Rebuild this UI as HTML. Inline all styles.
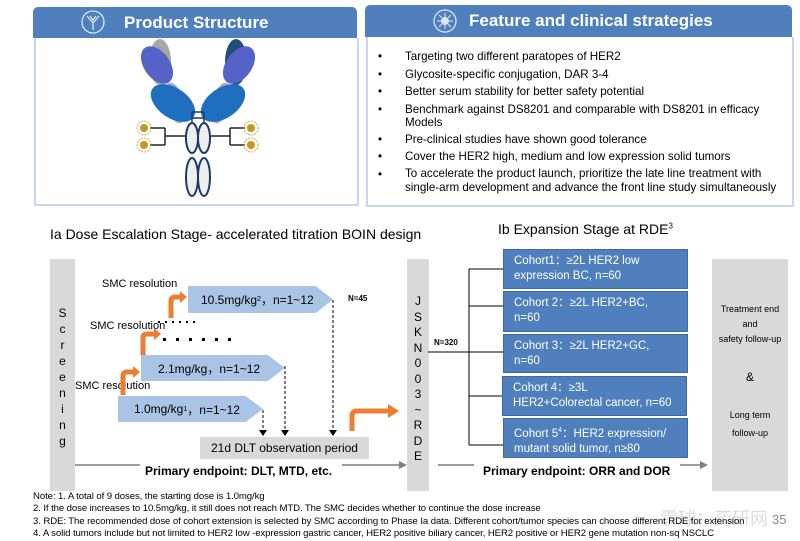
<!DOCTYPE html>
<html><head><meta charset="utf-8"><style>
body{margin:0;width:800px;height:541px;background:#fff;font-family:"Liberation Sans",Arial,sans-serif;position:relative;overflow:hidden}
.a{position:absolute}
.hdr{background:#4f7fbc;color:#fff;font-weight:bold;border-radius:5px 5px 0 0}
.t{font-size:11px;color:#000;white-space:nowrap}
.coh{position:absolute;left:503px;width:185px;background:#4f7fbc;color:#fff;font-size:11.5px;line-height:15px;padding:4px 0 0 10px;box-sizing:border-box;border:1px solid #3d6aa3}
.bar{position:absolute;background:#d9d9d9}
.pent{position:absolute;background:#aac4e6;clip-path:polygon(0 0,88% 0,100% 50%,88% 100%,0 100%);font-size:12px;display:flex;align-items:center;box-sizing:border-box}
</style></head><body>
<!-- headers -->
<div class="a hdr" style="left:33px;top:7px;width:324px;height:31px;font-size:17px;line-height:31px;"><span style="position:absolute;left:91px">Product Structure</span>
<svg style="position:absolute;left:47px;top:3px" width="27" height="25"><circle cx="13" cy="12" r="11" fill="none" stroke="#dde6f3" stroke-width="1.3"/><path d="M7 6 L13 13 L19 6 M13 13 V20 M10 6 L13 10 L16 6" stroke="#dde6f3" fill="none" stroke-width="1.3"/></svg></div>
<div class="a" style="left:34px;top:38px;width:321px;height:166px;border:2px solid #c5d6ee;border-top:none"></div>
<div class="a hdr" style="left:365px;top:5px;width:427px;height:32px;font-size:17px;line-height:32px;"><span style="position:absolute;left:104px">Feature and clinical strategies</span>
<svg style="position:absolute;left:67px;top:4px" width="26" height="25"><circle cx="13" cy="12" r="11" fill="none" stroke="#dde6f3" stroke-width="1.3"/><circle cx="13" cy="12" r="4" fill="#dde6f3"/><path d="M13 4V8M13 16V20M5 12H9M17 12H21M7 6L10 9M19 6L16 9M7 18L10 15M19 18L16 15" stroke="#dde6f3"/></svg></div>
<div class="a" style="left:366px;top:37px;width:424px;height:168px;border:2px solid #c5d6ee;border-top:none"></div>

<!-- antibody -->
<svg class="a" style="left:100px;top:35px" width="200" height="170">
<ellipse cx="60" cy="27" rx="11" ry="23" fill="#a6a6a6"/>
<ellipse cx="57" cy="30" rx="13" ry="21" fill="#5563c9" transform="rotate(-35 57 30)"/>
<ellipse cx="75" cy="68" rx="9" ry="21" fill="#a7b0bb" transform="rotate(-15 75 68)"/>
<ellipse cx="73" cy="68" rx="15" ry="25" fill="#1f6fc0" transform="rotate(-55 73 68)"/>
<ellipse cx="136" cy="27" rx="11" ry="23" fill="#1f4e79"/>
<ellipse cx="139" cy="30" rx="13" ry="21" fill="#5563c9" transform="rotate(35 139 30)"/>
<ellipse cx="121" cy="68" rx="9" ry="21" fill="#a7b0bb" transform="rotate(15 121 68)"/>
<ellipse cx="123" cy="68" rx="15" ry="25" fill="#1f6fc0" transform="rotate(55 123 68)"/>
<path d="M92 77H104M92 83H104M92 77V90M104 77V90" stroke="#1f3b64" stroke-width="1.5" fill="none"/>
<g fill="#eee" stroke="#1f3b64" stroke-width="2"><ellipse cx="92" cy="103" rx="6" ry="15"/><ellipse cx="104" cy="103" rx="6" ry="15"/><ellipse cx="92" cy="142" rx="6" ry="19"/><ellipse cx="104" cy="142" rx="6" ry="19"/></g>
<path d="M85 101H65M65 93V110M65 93H50M65 110H50M111 101H130M130 93V110M130 93H145M130 110H145" stroke="#222" stroke-width="1.5" fill="none"/>
<g fill="#c8961c"><circle cx="44" cy="93" r="4"/><circle cx="44" cy="110" r="4"/><circle cx="151" cy="93" r="4"/><circle cx="151" cy="110" r="4"/></g>
<g stroke="#c8961c" stroke-width="1" stroke-dasharray="1.5 1.5" fill="none"><circle cx="44" cy="93" r="7"/><circle cx="44" cy="110" r="7"/><circle cx="151" cy="93" r="7"/><circle cx="151" cy="110" r="7"/></g>
</svg>

<!-- bullets -->
<div class="a t" style="left:378px;top:48px;line-height:17.5px;font-size:11.6px;">
<div>•<span style="position:absolute;left:27px">Targeting two different paratopes of HER2</span></div>
<div>•<span style="position:absolute;left:27px">Glycosite-specific conjugation, DAR 3-4</span></div>
<div>•<span style="position:absolute;left:27px">Better serum stability for better safety potential</span></div>
<div style="height:30px">•<span style="position:absolute;left:27px;line-height:13.5px;margin-top:2px">Benchmark against DS8201 and comparable with DS8201 in efficacy<br>Models</span></div>
<div>•<span style="position:absolute;left:27px">Pre-clinical studies have shown good tolerance</span></div>
<div>•<span style="position:absolute;left:27px">Cover the HER2 high, medium and low expression solid tumors</span></div>
<div>•<span style="position:absolute;left:27px;line-height:14px;margin-top:1px">To accelerate the product launch, prioritize the late line treatment with<br>single-arm development and advance the front line study simultaneously</span></div>
</div>

<!-- section titles -->
<div class="a" style="left:50px;top:226px;font-size:14px">Ia Dose Escalation Stage- accelerated titration BOIN design</div>
<div class="a" style="left:498px;top:221px;font-size:14px">Ib Expansion Stage at RDE<sup style="font-size:8px">3</sup></div>

<!-- bars -->
<div class="bar" style="left:50px;top:259px;width:25px;height:232px"></div>
<div class="a" style="left:50px;top:305px;width:25px;text-align:center;font-size:12px;line-height:16px">S<br>c<br>r<br>e<br>e<br>n<br>i<br>n<br>g</div>
<div class="bar" style="left:407px;top:259px;width:22px;height:232px"></div>
<div class="a" style="left:407px;top:294px;width:22px;text-align:center;font-size:12px;line-height:15.5px">J<br>S<br>K<br>N<br>0<br>0<br>3<br>~<br>R<br>D<br>E</div>
<div class="bar" style="left:712px;top:259px;width:76px;height:232px"></div>
<div class="a" style="left:712px;top:302px;width:76px;text-align:center;font-size:9px;line-height:15px">Treatment end<br>and<br>safety follow-up</div>
<div class="a" style="left:712px;top:370px;width:76px;text-align:center;font-size:12px">&amp;</div>
<div class="a" style="left:712px;top:406px;width:76px;text-align:center;font-size:9px;line-height:18px">Long term<br>follow-up</div>

<!-- pentagons -->
<div class="pent" style="left:188px;top:286px;width:145px;height:27px;padding-left:13px">10.5mg/kg<sup style="font-size:7px">2</sup>，n=1~12</div>
<div class="pent" style="left:141px;top:355px;width:144px;height:26px;padding-left:17px">2.1mg/kg，n=1~12</div>
<div class="pent" style="left:118px;top:396px;width:145px;height:26px;padding-left:16px">1.0mg/kg<sup style="font-size:7px">1</sup>，n=1~12</div>
<div class="a t" style="left:102px;top:278px;font-size:11px">SMC resolution</div>
<div class="a t" style="left:90px;top:320px;font-size:11px">SMC resolution</div>
<div class="a t" style="left:75px;top:380px;font-size:11px">SMC resolution</div>
<div class="a" style="left:348px;top:294px;font-size:8px;font-weight:bold">N=45</div>
<div class="bar" style="left:200px;top:437px;width:169px;height:22px;font-size:12px;line-height:22px;text-align:center">21d DLT observation period</div>

<svg class="a" style="left:0;top:0" width="800" height="541">
<g stroke="#000" stroke-dasharray="3 2" stroke-width="1"><path d="M263 410V430M285 366V430M333 300V430"/></g>
<g fill="#000"><path d="M259 430H267L263 436Z M281 430H289L285 436Z M329 430H337L333 436Z"/></g>
<g fill="#000"><rect x="158" y="321" width="2" height="2"/><rect x="165" y="321" width="2" height="2"/><rect x="172" y="321" width="2" height="2"/><rect x="179" y="321" width="2" height="2"/><rect x="186" y="321" width="2" height="2"/><rect x="193" y="321" width="2" height="2"/>
<rect x="163" y="338" width="3" height="3"/><rect x="176" y="338" width="3" height="3"/><rect x="189" y="338" width="3" height="3"/><rect x="202" y="338" width="3" height="3"/><rect x="215" y="338" width="3" height="3"/><rect x="228" y="338" width="3" height="3"/></g>
<g stroke="#ed7d31" stroke-width="5" fill="none"><path d="M123 395V376Q123 372 127 372H134M143 355V338Q143 334 147 334H155M171 318V301Q171 297 175 297H181M352 431V416Q352 411 357 411H390"/></g>
<g fill="#ed7d31"><path d="M133 366L140 372L133 378Z M154 328L161 334L154 340Z M180 291L187 297L180 303Z M388 404L399 411L388 418Z"/></g>
<g stroke="#7f7f7f" stroke-width="1.5"><path d="M75 465H140M342 465H399M438 465H474M680 465H700"/></g>
<g fill="#7f7f7f"><path d="M399 461L407 465L399 469Z M700 461L708 465L700 469Z"/></g>
<g stroke="#000" stroke-width="1"><path d="M428 352H469M469 269V445M469 269H503M469 306H503M469 352H503M469 396H503M469 445H503"/></g>
</svg>
<div class="a" style="left:145px;top:464px;font-size:12px;font-weight:bold">Primary endpoint: DLT, MTD, etc.</div>
<div class="a" style="left:483px;top:464px;font-size:12px;font-weight:bold">Primary endpoint: ORR and DOR</div>
<div class="a" style="left:434px;top:338px;font-size:8px;font-weight:bold">N=320</div>

<div class="coh" style="top:249px;height:40px">Cohort1：≥2L HER2 low<br>expression BC, n=60</div>
<div class="coh" style="top:291px;height:41px">Cohort 2：≥2L HER2+BC,<br>n=60</div>
<div class="coh" style="top:334px;height:39px">Cohort 3：≥2L HER2+GC,<br>n=60</div>
<div class="coh" style="top:376px;height:40px;left:502px">Cohort 4：≥3L<br>HER2+Colorectal cancer, n=60</div>
<div class="coh" style="top:418px;height:40px">Cohort 5<sup style="font-size:7px">4</sup>：HER2 expression/<br>mutant solid tumor, n≥80</div>

<div class="a" style="left:660px;top:505px;font-size:18px;color:#ddd;font-family:'Liberation Sans','Noto Sans CJK SC',sans-serif">雪球：药研网</div>
<div class="a" style="left:33px;top:491px;font-size:9.6px;line-height:12.3px;white-space:nowrap;letter-spacing:-0.1px">Note: 1. A total of 9 doses, the starting dose is 1.0mg/kg<br>2. If the dose increases to 10.5mg/kg, it still does not reach MTD. The SMC decides whether to continue the dose increase<br>3. RDE: The recommended dose of cohort extension is selected by SMC according to Phase Ia data. Different cohort/tumor species can choose different RDE for extension<br>4. A solid tumors include but not limited to HER2 low -expression gastric cancer, HER2 positive biliary cancer, HER2 positive or HER2 gene mutation non-sq NSCLC</div>
<div class="a" style="left:772px;top:512px;font-size:13px;color:#888">35</div>
</body></html>
